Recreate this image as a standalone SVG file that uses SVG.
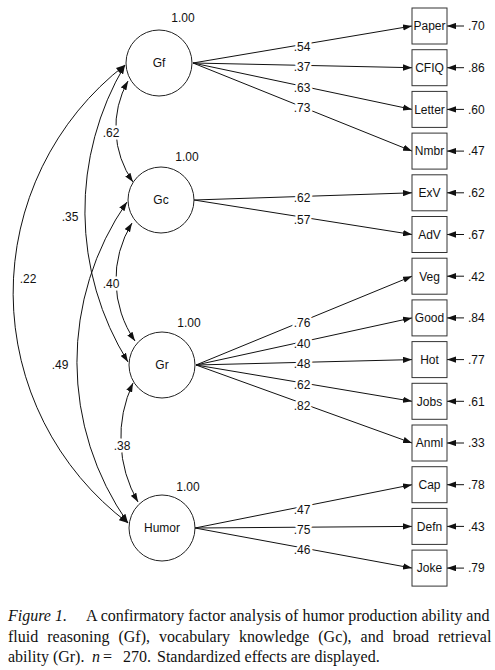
<svg xmlns="http://www.w3.org/2000/svg" width="495" height="670" viewBox="0 0 495 670">
<style>
text{font-family:"Liberation Sans",Arial,sans-serif;font-size:12px;fill:#111}
.lbl{stroke:#fff;stroke-width:5;paint-order:stroke;stroke-linejoin:round}
.mid{text-anchor:middle}
.lat{fill:#fff;stroke:#222;stroke-width:1}
.box{fill:#fff;stroke:#333;stroke-width:1}
.ln{fill:none;stroke:#111;stroke-width:1;marker-end:url(#ah)}
.cov{fill:none;stroke:#111;stroke-width:1;marker-start:url(#ah);marker-end:url(#ah)}
.cap{font-family:"Liberation Serif","Times New Roman",serif;font-size:16px;fill:#111}
</style>
<defs>
<marker id="ah" viewBox="0 0 10 7" refX="10" refY="3.5" markerWidth="9" markerHeight="6.5" markerUnits="userSpaceOnUse" orient="auto-start-reverse">
<path d="M0,0 L10,3.5 L0,7 z" fill="#111"/>
</marker>
</defs>
<g id="connectors">
<path class="cov" d="M125,65 A288,288 0 0 0 128,523"/>
<path class="cov" d="M125,65 A286,286 0 0 0 128,362"/>
<path class="cov" d="M127,202 A280,280 0 0 0 128,523"/>
<path class="cov" d="M128,81 A95,95 0 0 0 133,182"/>
<path class="cov" d="M132,223 A108,108 0 0 0 135,341"/>
<path class="cov" d="M133,383 A129,129 0 0 0 138,502"/>
<path class="ln" d="M193,63 L412,26"/>
<path class="ln" d="M193,63 L412,67.7"/>
<path class="ln" d="M193,63 L412,109.4"/>
<path class="ln" d="M193,63 L412,151.1"/>
<path class="ln" d="M194,200 L412,192.8"/>
<path class="ln" d="M194,200 L412,234.5"/>
<path class="ln" d="M196,365 L412,276.2"/>
<path class="ln" d="M196,365 L412,317.9"/>
<path class="ln" d="M196,365 L412,359.6"/>
<path class="ln" d="M196,365 L412,401.3"/>
<path class="ln" d="M196,365 L412,443"/>
<path class="ln" d="M195,528 L412,484.7"/>
<path class="ln" d="M195,528 L412,526.4"/>
<path class="ln" d="M195,528 L412,568.1"/>
<path class="ln" d="M464,26 L447,26"/>
<path class="ln" d="M464,67.7 L447,67.7"/>
<path class="ln" d="M464,109.4 L447,109.4"/>
<path class="ln" d="M464,151.1 L447,151.1"/>
<path class="ln" d="M464,192.8 L447,192.8"/>
<path class="ln" d="M464,234.5 L447,234.5"/>
<path class="ln" d="M464,276.2 L447,276.2"/>
<path class="ln" d="M464,317.9 L447,317.9"/>
<path class="ln" d="M464,359.6 L447,359.6"/>
<path class="ln" d="M464,401.3 L447,401.3"/>
<path class="ln" d="M464,443 L447,443"/>
<path class="ln" d="M464,484.7 L447,484.7"/>
<path class="ln" d="M464,526.4 L447,526.4"/>
<path class="ln" d="M464,568.1 L447,568.1"/>
<text class="mid lbl" x="111" y="137">.62</text>
<text class="mid lbl" x="111" y="288">.40</text>
<text class="mid lbl" x="122" y="450">.38</text>
<text class="mid" x="70" y="221">.35</text>
<text class="mid" x="28" y="283">.22</text>
<text class="mid" x="60" y="369">.49</text>
<text class="mid lbl" x="302" y="51">.54</text>
<text class="mid lbl" x="302" y="71">.37</text>
<text class="mid lbl" x="302" y="91.5">.63</text>
<text class="mid lbl" x="302" y="111.5">.73</text>
<text class="mid lbl" x="302" y="202">.62</text>
<text class="mid lbl" x="302" y="224">.57</text>
<text class="mid lbl" x="302" y="327">.76</text>
<text class="mid lbl" x="302" y="347.5">.40</text>
<text class="mid lbl" x="302" y="367.5">.48</text>
<text class="mid lbl" x="302" y="389">.62</text>
<text class="mid lbl" x="302" y="410">.82</text>
<text class="mid lbl" x="302" y="513.5">.47</text>
<text class="mid lbl" x="302" y="533.5">.75</text>
<text class="mid lbl" x="302" y="554">.46</text>
<text x="468" y="30.3">.70</text>
<text x="468" y="72">.86</text>
<text x="468" y="113.7">.60</text>
<text x="468" y="155.4">.47</text>
<text x="468" y="197.1">.62</text>
<text x="468" y="238.8">.67</text>
<text x="468" y="280.5">.42</text>
<text x="468" y="322.2">.84</text>
<text x="468" y="363.9">.77</text>
<text x="468" y="405.6">.61</text>
<text x="468" y="447.3">.33</text>
<text x="468" y="489">.78</text>
<text x="468" y="530.7">.43</text>
<text x="468" y="572.4">.79</text>
</g>
<g id="Gf"><circle class="lat" cx="159" cy="63" r="33"/><text class="mid" x="159" y="67.3">Gf</text><text class="mid" x="183" y="22">1.00</text></g>
<g id="Gc"><circle class="lat" cx="161" cy="200" r="33"/><text class="mid" x="161" y="204.3">Gc</text><text class="mid" x="187" y="161">1.00</text></g>
<g id="Gr"><circle class="lat" cx="162" cy="365" r="33"/><text class="mid" x="162" y="369.3">Gr</text><text class="mid" x="189" y="327">1.00</text></g>
<g id="Humor"><circle class="lat" cx="162" cy="528" r="33"/><text class="mid" x="162" y="532.3">Humor</text><text class="mid" x="188" y="491">1.00</text></g>
<g id="Paper"><rect class="box" x="412" y="8" width="35" height="36"/><text class="mid" x="429.5" y="30.3">Paper</text></g>
<g id="CFIQ"><rect class="box" x="412" y="49.7" width="35" height="36"/><text class="mid" x="429.5" y="72">CFIQ</text></g>
<g id="Letter"><rect class="box" x="412" y="91.4" width="35" height="36"/><text class="mid" x="429.5" y="113.7">Letter</text></g>
<g id="Nmbr"><rect class="box" x="412" y="133.1" width="35" height="36"/><text class="mid" x="429.5" y="155.4">Nmbr</text></g>
<g id="ExV"><rect class="box" x="412" y="174.8" width="35" height="36"/><text class="mid" x="429.5" y="197.1">ExV</text></g>
<g id="AdV"><rect class="box" x="412" y="216.5" width="35" height="36"/><text class="mid" x="429.5" y="238.8">AdV</text></g>
<g id="Veg"><rect class="box" x="412" y="258.2" width="35" height="36"/><text class="mid" x="429.5" y="280.5">Veg</text></g>
<g id="Good"><rect class="box" x="412" y="299.9" width="35" height="36"/><text class="mid" x="429.5" y="322.2">Good</text></g>
<g id="Hot"><rect class="box" x="412" y="341.6" width="35" height="36"/><text class="mid" x="429.5" y="363.9">Hot</text></g>
<g id="Jobs"><rect class="box" x="412" y="383.3" width="35" height="36"/><text class="mid" x="429.5" y="405.6">Jobs</text></g>
<g id="Anml"><rect class="box" x="412" y="425" width="35" height="36"/><text class="mid" x="429.5" y="447.3">Anml</text></g>
<g id="Cap"><rect class="box" x="412" y="466.7" width="35" height="36"/><text class="mid" x="429.5" y="489">Cap</text></g>
<g id="Defn"><rect class="box" x="412" y="508.4" width="35" height="36"/><text class="mid" x="429.5" y="530.7">Defn</text></g>
<g id="Joke"><rect class="box" x="412" y="550.1" width="35" height="36"/><text class="mid" x="429.5" y="572.4">Joke</text></g>
<g id="caption">
<text class="cap" x="8" y="621"><tspan font-style="italic">Figure 1.</tspan><tspan x="86">A confirmatory factor analysis of humor production ability and</tspan></text>
<text class="cap" x="8" y="641.5" word-spacing="5">fluid reasoning (Gf), vocabulary knowledge (Gc), and broad retrieval</text>
<text class="cap" x="8" y="662">ability (Gr). <tspan x="92" font-style="italic">n</tspan><tspan x="103">=</tspan><tspan x="123">270.</tspan><tspan x="157">Standardized effects are displayed.</tspan></text>
</g>
</svg>
